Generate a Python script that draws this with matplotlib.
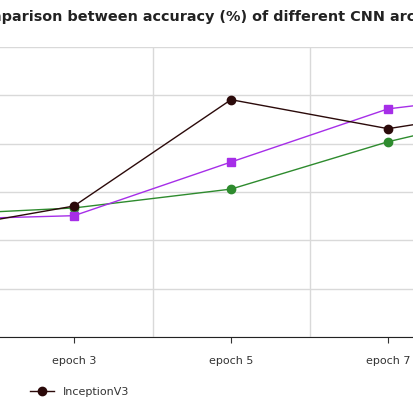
import matplotlib
matplotlib.use("Agg")
import matplotlib.pyplot as plt
from matplotlib.lines import Line2D

epochs = [1, 3, 5, 7, 9]
tick_labels = ["epoch 1", "epoch 3", "epoch 5", "epoch 7", "epoch 9"]
inception = [61.4, 67.1, 89.1, 83.1, 88.2]
purple_series = [64.2, 65.1, 76.2, 87.2, 91.1]
green_series = [65.1, 66.7, 70.6, 80.4, 88.0]

fig = plt.figure(figsize=(4.13, 4.13), dpi=100)
ax = fig.add_axes([0, 76/413, 1, 290/413])

ax.plot(epochs, green_series, color="#2e8b2e", lw=1, marker="o", ms=6, zorder=3, clip_on=True)
ax.plot(epochs, purple_series, color="#a62ee8", lw=1, marker="s", ms=6, zorder=4, clip_on=True)
ax.plot(epochs, inception, color="#2b0a0a", lw=1, marker="o", ms=6, zorder=5, clip_on=True)

ax.set_yticks(range(40, 101, 10))
ax.yaxis.set_tick_params(length=0, labelleft=False)
ax.set_xticks(epochs)
ax.set_xticklabels(tick_labels, fontsize=8, color="#333333")
ax.tick_params(axis="x", length=4, color="#333333", pad=10)
ax.grid(axis="y", color="#d9d9d9", lw=1)
for x in [4, 6]:
    ax.axvline(x, color="#d9d9d9", lw=1, zorder=0)
for s in ["top", "left", "right"]:
    ax.spines[s].set_visible(False)
ax.spines["bottom"].set_color("#222222")
ax.set_xlim(2.057, 7.318)
ax.set_ylim(40, 100)

fig.text(-34/413, 1 - 17/413, "Comparison between accuracy (%) of different CNN architectures",
         fontsize=10.4, fontweight="bold", color="#222222", ha="left", va="center")

h = Line2D([], [], color="#2b0a0a", lw=1, marker="o", ms=6)
fig.legend([h], ["InceptionV3"], loc="center left", bbox_to_anchor=(20/413, 1 - 392/413),
           frameon=False, fontsize=8, handlelength=2.2, labelcolor="#333333")

fig.savefig("out.png", dpi=100)
